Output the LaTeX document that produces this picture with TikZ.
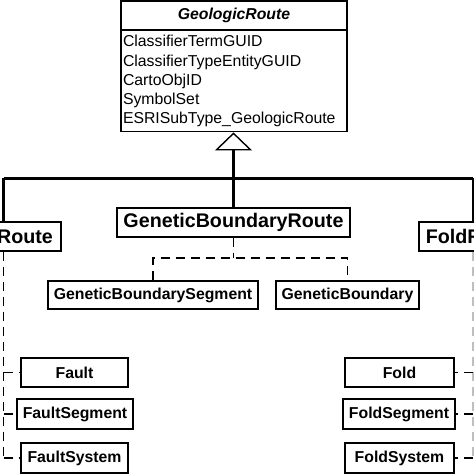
\documentclass[tikz,border=0pt]{standalone}
\usepackage{fontspec}
\setmainfont{Liberation Sans}
\usetikzlibrary{arrows.meta}
\begin{document}
\begin{tikzpicture}[x=1pt,y=-1pt,
  box/.style={draw=black, line width=1.4pt, fill=white, inner sep=0pt, font=\bfseries\fontsize{15.8}{18}\selectfont},
  bigbox/.style={box, font=\bfseries\fontsize{19.7}{22}\selectfont},
  inherit/.style={line width=3pt},
  dashlink/.style={line width=1.8pt, dash pattern=on 9pt off 6pt}
]
\useasboundingbox (0,0) rectangle (474,474);
\clip (0,0) rectangle (474,474);
% top class
\node[box, minimum width=226pt, minimum height=29pt, font=\bfseries\itshape\fontsize{15.8}{18}\selectfont] (title) at (234,15.5) {GeologicRoute};
\node[box, font=\fontsize{15.8}{19.2}\selectfont, minimum width=226pt, minimum height=101pt, text width=222pt, align=left, anchor=north] (attrs) at (234,30)
  {ClassifierTermGUID\\ClassifierTypeEntityGUID\\CartoObjID\\SymbolSet\\ESRISubType\_GeologicRoute};
% route boxes
\node[bigbox, minimum width=119pt, minimum height=29pt] (faultroute) at (1.5,236.5) {FaultRoute};
\node[bigbox, minimum width=233pt, minimum height=29pt] (gbr) at (233.5,222.5) {GeneticBoundaryRoute};
\node[bigbox, minimum width=111pt, minimum height=29pt] (foldroute) at (474.5,236.5) {FoldRoute};
% genetic boundary children
\node[box, minimum width=210pt, minimum height=28pt] (gbseg) at (153,295) {GeneticBoundarySegment};
\node[box, minimum width=143pt, minimum height=28pt] (gb) at (347.5,295) {GeneticBoundary};
% fault children
\node[box, minimum width=107pt, minimum height=29pt] (fault) at (74.5,372.5) {Fault};
\node[box, minimum width=116pt, minimum height=30pt] (faultseg) at (75,414) {FaultSegment};
\node[box, minimum width=107pt, minimum height=30pt] (faultsys) at (74.5,458) {FaultSystem};
% fold children
\node[box, minimum width=109pt, minimum height=29pt] (fold) at (399.5,372.5) {Fold};
\node[box, minimum width=112pt, minimum height=30pt] (foldseg) at (399,414) {FoldSegment};
\node[box, minimum width=109pt, minimum height=30pt] (foldsys) at (399.5,458) {FoldSystem};
% inheritance tree
\coordinate (hub) at (233.5,178);
\coordinate (hl) at (3.5,178);
\coordinate (hr) at (473,178);
\draw[inherit, -{Triangle[open, width=37pt, length=18pt, line width=1.4pt]}] (hub) -- (attrs.south -| hub);
\draw[inherit] (hl) -- (hr);
\draw[inherit] (hl) -- (hl |- faultroute.north);
\draw[inherit] (hr) -- (hr |- foldroute.north);
\draw[inherit] (hub) -- (hub |- gbr.north);
% genetic boundary dashed
\coordinate (gj) at (233.5,258);
\draw[dashlink] (gbr.south -| gj) -- (gj);
\draw[dashlink] (gbseg.north) -- (gbseg.north |- gj) -- (gb.north |- gj) -- (gb.north);
% fault dashed
\coordinate (fl) at (3.5,458);
\draw[dashlink] (faultroute.south -| fl) -- (fl);
\draw[dashlink] (fl |- fault.west) -- (fault.west);
\draw[dashlink] (fl |- faultseg.west) -- (faultseg.west);
\draw[dashlink] (fl) -- (faultsys.west);
% fold dashed
\coordinate (fr) at (473,458);
\draw[dashlink, draw=black!25] (foldroute.south -| fr) -- (fr);
\draw[dashlink] (fr |- fold.east) -- (fold.east);
\draw[dashlink] (fr |- foldseg.east) -- (foldseg.east);
\draw[dashlink] (fr) -- (foldsys.east);
\end{tikzpicture}
\end{document}
